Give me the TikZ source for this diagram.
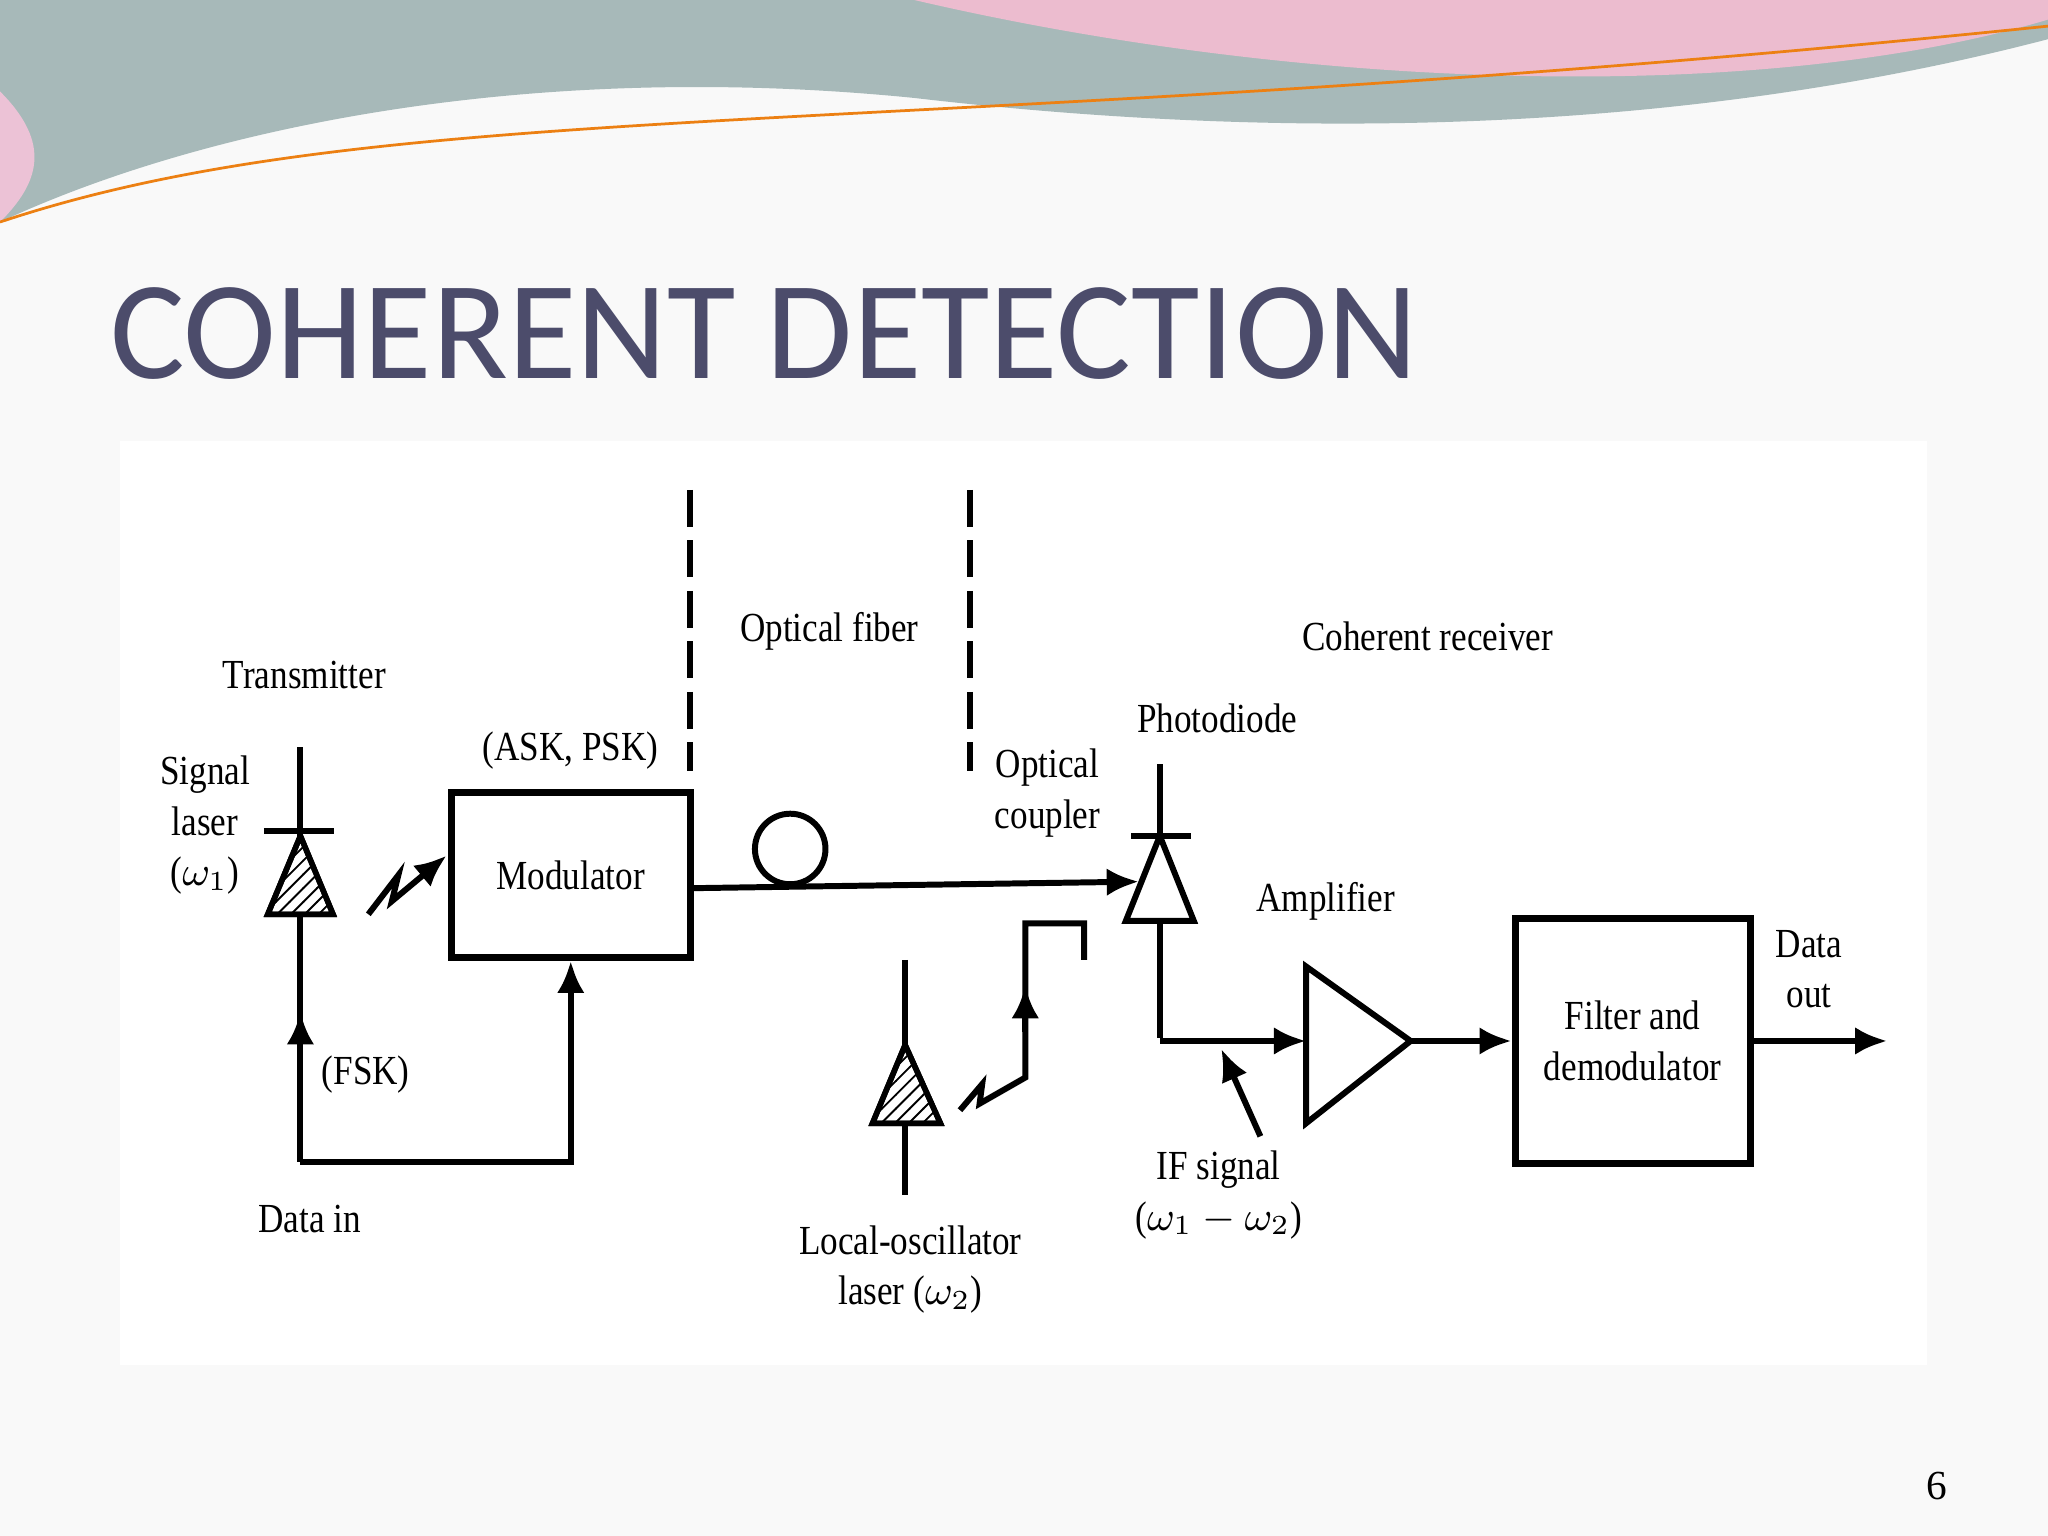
\documentclass[tikz,border=0pt]{standalone}
\usepackage{fontspec}
\setmainfont{Liberation Serif}
\newfontfamily\titlefont{Carlito}
\usetikzlibrary{positioning,patterns,arrows.meta}
\begin{document}
\begin{tikzpicture}
    [
        x = 0.01cm, y = -0.01cm,
        wire/.style = {line width=1.3pt},
        sig/.style = {wire, -{Latex[length=7pt,width=6pt]}},
        fibdash/.style = {wire, dash pattern=on 8pt off 3pt},
        lbl/.style = {font=\fontsize{9}{11}\selectfont\addfontfeature{FakeStretch=0.85}, align=center, inner sep=1pt},
        box/.style = {draw, line width=1.5pt, align=center, inner sep=0pt, font=\fontsize{9}{11}\selectfont\addfontfeature{FakeStretch=0.85}},
        hatched/.style = {draw, line width=1.2pt, pattern=north east lines},
    ]

    % slide background and banner
    \useasboundingbox (0,0) rectangle (1568,1176);
    \fill[gray!5] (0,0) rectangle (1568,1176);
    \fill[white] (92,338) rectangle (1475,1045);
    \fill[teal!25!gray!55] (0,0) -- (1568,0) -- (1568,30)
        .. controls (1300,100) and (1000,110) .. (700,75)
        .. controls (400,45) and (150,100) .. (0,170) -- cycle;
    \fill[violet!25!pink!60] (700,0) -- (1568,0) -- (1568,15)
        .. controls (1350,80) and (1000,70) .. (700,0) -- cycle;
    \fill[violet!30!pink!50] (0,70) .. controls (40,110) and (30,140) .. (0,170) -- cycle;
    \draw[orange!70!brown, line width=0.6pt] (0,170) .. controls (300,70) and (700,110) .. (1568,20);
    \node[font=\titlefont\fontsize{30.5}{33}\selectfont, text=black!70!blue!40!gray, anchor=west] (title) at (72,255) {COHERENT DETECTION};
    \node[font=\fontsize{9}{10}\selectfont] (pagenum) at (1483,1138) {6};

    % transmitter
    \coordinate (sltop) at (230,572);
    \coordinate (slbot) at (230,890);
    \draw[wire] (sltop) -- (slbot);
    \draw[hatched, fill=white] (230,640) -- (205,700) -- (255,700) -- cycle;
    \draw[hatched] (230,640) -- (205,700) -- (255,700) -- cycle;
    \draw[wire] (202,636) -- (256,636);
    \node[box, minimum width=183*0.01cm, minimum height=126*0.01cm] (mod) at (437,670) {Modulator};
    \coordinate (datain) at (437,890);
    \draw[sig] (230,800) -- (230,775);
    \draw[sig] (slbot) -- (datain) -- (mod.south);
    \draw[sig] (282,700) -- (305,670) -- (300,690) -- (342,655);

    % fiber section
    \draw[fibdash] (528,375) -- (528,590);
    \draw[fibdash] (743,375) -- (743,590);
    \coordinate (loop) at (605,650);
    \draw[wire] (loop) circle[radius=27];
    \coordinate (pdin) at (872,675);
    \draw[sig] (mod.east |- 0,680) -- (pdin);

    % photodiode
    \draw[wire] (888,585) -- (888,795);
    \draw[wire, fill=white] (888,640) -- (862,705) -- (914,705) -- cycle;
    \draw[wire] (866,640) -- (912,640);
    \coordinate (pdbot) at (888,797);

    % local oscillator
    \draw[wire] (693,735) -- (693,915);
    \draw[hatched, fill=white] (693,800) -- (668,860) -- (720,860) -- cycle;
    \draw[hatched] (693,800) -- (668,860) -- (720,860) -- cycle;
    \draw[wire] (735,850) -- (752,830) -- (750,845) -- (785,825) -- (785,707) -- (830,707) -- (830,735);
    \draw[sig] (785,790) -- (785,755);

    % amplifier and filter
    \coordinate (ampin) at (1000,797);
    \coordinate (ampout) at (1080,797);
    \draw[wire] (1000,740) -- (ampout) -- (1000,860) -- cycle;
    \draw[sig] (pdbot) -- (ampin);
    \node[box, minimum width=180*0.01cm, minimum height=187*0.01cm] (filt) at (1250,797) {Filter and\\demodulator};
    \draw[sig] (ampout) -- (filt.west);
    \coordinate (out) at (1445,797);
    \draw[sig] (filt.east) -- (out);
    \draw[sig] (965,870) -- (935,803);

    % labels
    \node[lbl] (ltx) at (233,517) {Transmitter};
    \node[lbl] (lsl) at (157,632) {Signal\\laser\\($\omega_1$)};
    \node[lbl] (lask) at (437,575) {(ASK, PSK)};
    \node[lbl] (lfsk) at (280,823) {(FSK)};
    \node[lbl] (ldin) at (237,933) {Data in};
    \node[lbl] (lfib) at (635,483) {Optical fiber};
    \node[lbl] (lcoup) at (802,607) {Optical\\coupler};
    \node[lbl] (lrx) at (1093,487) {Coherent receiver};
    \node[lbl] (lpd) at (932,550) {Photodiode};
    \node[lbl] (lamp) at (1015,690) {Amplifier};
    \node[lbl] (lout) at (1385,742) {Data\\out};
    \node[lbl] (lif) at (933,915) {IF signal\\($\omega_1-\omega_2$)};
    \node[lbl] (llo) at (697,972) {Local-oscillator\\laser ($\omega_2$)};
\end{tikzpicture}
\end{document}
